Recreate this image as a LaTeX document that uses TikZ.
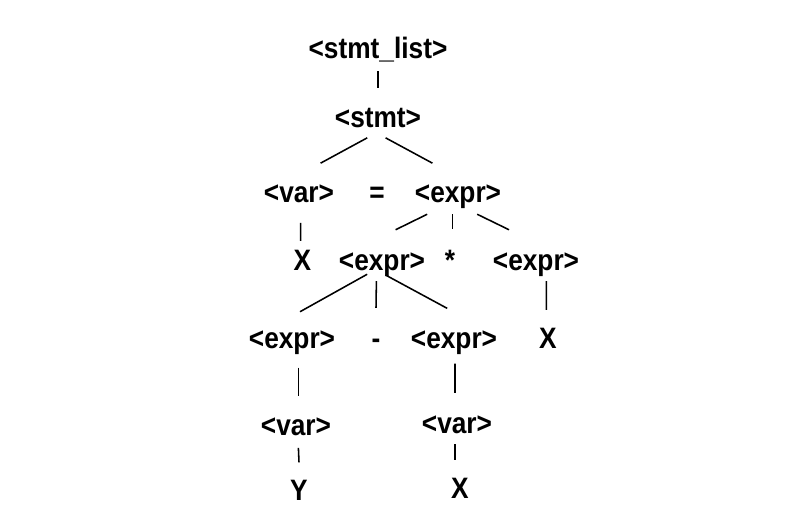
\documentclass[tikz,border=0pt]{standalone}
\usepackage{fontspec}
\newfontfamily\treefont[FakeStretch=0.89]{Liberation Sans Bold}
\usetikzlibrary{positioning}
\begin{document}
\begin{tikzpicture}[on grid, line width=1.1pt,
		nodes={font=\treefont\fontsize{21pt}{25pt}\selectfont, text height=14.9pt, text depth=0pt, inner sep=0pt}]
				\useasboundingbox (0,0) rectangle (20,-13.05);
				\node (sl) at (9.45,-1.2) {<stmt\_list>};
				\node (st) [below=1.725cm of sl] {<stmt>};
				\node (var1) [below left=1.875cm and 1.975cm of st] {<var>};
				\node (eq) [below left=1.875cm and 0.025cm of st] {=};
				\node (ex1) [below right=1.875cm and 2cm of st] {<expr>};
				\node (x1) [below right=1.7cm and 0.0875cm of var1] {X};
				\node (ex2) [below left=1.7cm and 1.9cm of ex1] {<expr>};
				\node (star) [below left=1.7cm and 0.2cm of ex1] {*};
				\node (ex3) [below right=1.7cm and 1.95cm of ex1] {<expr>};
				\node (ex4) [below left=1.95cm and 2.25cm of ex2] {<expr>};
				\node (minus) [below left=1.95cm and 0.15cm of ex2] {-};
				\node (ex5) [below right=1.95cm and 1.8cm of ex2] {<expr>};
				\node (x2) [below right=1.95cm and 0.3cm of ex3] {X};
				\node (var2) [below right=2.175cm and 0.1cm of ex4] {<var>};
				\node (var3) [below right=2.125cm and 0.075cm of ex5] {<var>};
				\node (y1) [below right=1.625cm and 0.075cm of var2] {Y};
				\node (x3) [below right=1.625cm and 0.075cm of var3] {X};
				\draw ([yshift=-0.3cm]sl.south) -- ([yshift=0.45cm]st.north);
				\draw ([xshift=-0.27cm,yshift=-0.24cm]st.south) -- ([xshift=0.54cm,yshift=0.44cm]var1.north);
				\draw ([xshift=0.19cm,yshift=-0.24cm]st.south) -- ([xshift=-0.64cm,yshift=0.44cm]ex1.north);
				\draw ([xshift=0.04cm,yshift=-0.49cm]var1.south) -- ([xshift=-0.045cm,yshift=0.2cm]x1.north);
				\draw ([xshift=-0.77cm,yshift=-0.275cm]ex1.south) -- ([xshift=0.34cm,yshift=0.475cm]ex2.north);
				\draw ([xshift=-0.14cm,yshift=-0.27cm]ex1.south) -- ([xshift=0.06cm,yshift=0.49cm]star.north);
				\draw ([xshift=0.48cm,yshift=-0.275cm]ex1.south) -- ([xshift=-0.675cm,yshift=0.475cm]ex3.north);
				\draw ([xshift=-0.37cm,yshift=-0.075cm]ex2.south) -- ([xshift=0.2cm,yshift=0.375cm]ex4.north);
				\draw ([xshift=-0.14cm,yshift=-0.245cm]ex2.south) -- ([yshift=0.47cm]minus.north);
				\draw ([xshift=0.09cm,yshift=-0.095cm]ex2.south) -- ([xshift=-0.17cm,yshift=0.46cm]ex5.north);
				\draw ([xshift=0.26cm,yshift=-0.245cm]ex3.south) -- ([xshift=-0.04cm,yshift=0.425cm]x2.north);
				\draw ([xshift=0.16cm,yshift=-0.46cm]ex4.south) -- ([xshift=0.06cm,yshift=0.45cm]var2.north);
				\draw ([xshift=0.025cm,yshift=-0.36cm]ex5.south) -- ([xshift=-0.05cm,yshift=0.47cm]var3.north);
				\draw ([xshift=0.06cm,yshift=-0.29cm]var2.south) -- ([yshift=0.41cm]y1.north);
				\draw ([xshift=-0.05cm,yshift=-0.25cm]var3.south) -- ([xshift=-0.125cm,yshift=0.425cm]x3.north);
			\end{tikzpicture}
\end{document}
